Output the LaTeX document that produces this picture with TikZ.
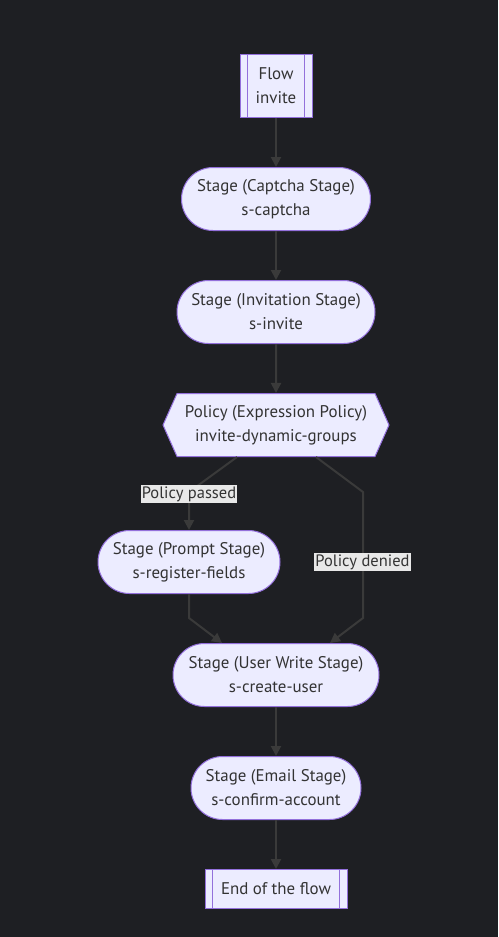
\documentclass[tikz,border=0pt]{standalone}
\usepackage{fontspec}
\setmainfont{PT Sans}
\usetikzlibrary{arrows.meta, shapes.symbols}
\definecolor{bgc}{RGB}{30,31,35}
\definecolor{nodefill}{HTML}{ECECFF}
\definecolor{nodeline}{HTML}{9370DB}
\definecolor{edgec}{RGB}{58,58,58}
\definecolor{labelfill}{HTML}{E8E8E8}
\definecolor{txt}{HTML}{333333}

\begin{document}
\begin{tikzpicture}[x = 1pt, y = -1pt,
        box/.style = {draw = nodeline, fill = nodefill, line width = 1pt, text = txt, align = center, inner sep = 0pt, font = \fontsize{16.9}{24}\selectfont},
        stage/.style = {box, minimum height = 63pt, minimum width = #1, rounded corners = 31.5pt},
        sub/.style = {box, minimum height = #1},
        hex/.style = {box, shape = signal, signal to = east and west, signal pointer angle = 132, minimum width = 226pt, minimum height = 63pt},
        edge/.style = {draw = edgec, line width = 2pt, -{Triangle[length = 10pt, width = 10pt]}},
        lbl/.style = {fill = labelfill, text = txt, inner sep = 1pt, font = \fontsize{16.5}{18}\selectfont}]
    \fill[bgc] (0, 0) rectangle (498, 937);
    \useasboundingbox (0, 0) rectangle (498, 937);

    % nodes
    \node[sub = 63pt, minimum width = 72pt] (flow) at (276, 86) {Flow\\invite};
    \node[stage = 189pt] (cap) at (276, 199) {Stage (Captcha Stage)\\s-captcha};
    \node[stage = 198pt] (inv) at (276, 312) {Stage (Invitation Stage)\\s-invite};
    \node[hex] (pol) at (276, 425) {Policy (Expression Policy)\\invite-dynamic-groups};
    \node[stage = 182pt] (pro) at (189, 562) {Stage (Prompt Stage)\\s-register-fields};
    \node[stage = 206pt] (usr) at (276, 675) {Stage (User Write Stage)\\s-create-user};
    \node[stage = 170pt] (eml) at (276, 788) {Stage (Email Stage)\\s-confirm-account};
    \node[sub = 39pt, minimum width = 142pt] (end) at (276, 889) {End of the flow};

    % subroutine bars
    \draw[nodeline, line width = 1pt] ([xshift = 8pt]flow.north west) -- ([xshift = 8pt]flow.south west)
                                      ([xshift = -8pt]flow.north east) -- ([xshift = -8pt]flow.south east)
                                      ([xshift = 8pt]end.north west) -- ([xshift = 8pt]end.south west)
                                      ([xshift = -8pt]end.north east) -- ([xshift = -8pt]end.south east);

    % bends
    \coordinate (pa) at (189, 492);
    \coordinate (pb) at (189, 618);
    \coordinate (da) at (363, 492);
    \coordinate (db) at (363, 618);

    % edges
    \draw[edge] (flow) -- (cap);
    \draw[edge] (cap) -- (inv);
    \draw[edge] (inv) -- (pol);
    \draw[edge] ([xshift = -39pt]pol.south) -- (pa) -- (pro.north);
    \draw[edge] ([xshift = 40pt]pol.south) -- (da) -- (db) -- ([xshift = 54pt]usr.north);
    \draw[edge] (pro.south) -- (pb) -- ([xshift = -54pt]usr.north);
    \draw[edge] (usr) -- (eml);
    \draw[edge] (eml) -- (end);

    % labels
    \node[lbl] (lpass) at (189, 494) {Policy passed};
    \node[lbl] (ldeny) at (362.5, 562) {Policy denied};
\end{tikzpicture}
\end{document}
